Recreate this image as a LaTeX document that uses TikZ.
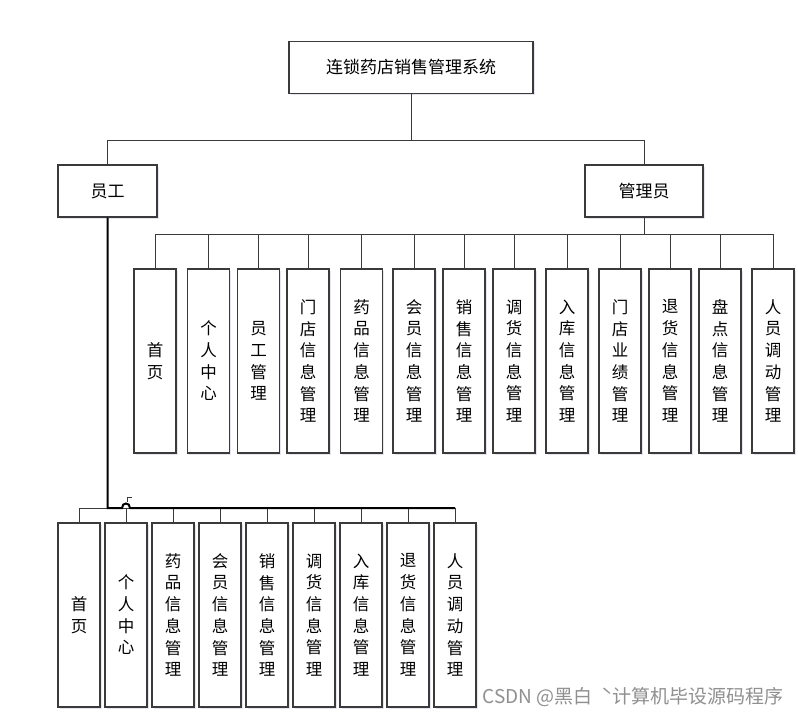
\documentclass[tikz,border=0pt]{standalone}
\usepackage{fontspec}
\setmainfont{Noto Sans CJK SC}
\usetikzlibrary{shadows,calc}
\definecolor{edge}{HTML}{3A3A3A}
\definecolor{wm}{HTML}{909090}
\begin{document}
\begin{tikzpicture}[x=1pt,y=-1pt,
  box/.style={draw=edge, line width=1.2pt, fill=white, inner sep=0pt,
    drop shadow={shadow xshift=1.5pt, shadow yshift=-1.5pt, fill=blue!30!gray, opacity=0.15}},
  hbox/.style={box, minimum height=52pt, font=\fontsize{17}{20}\selectfont},
  vbox/.style={box, minimum width=42pt, minimum height=184pt, align=center,
    font=\fontsize{16.5}{21.7}\selectfont},
  link/.style={draw=edge, line width=0.9pt},
  mainlink/.style={draw=black, line width=2pt}]
\useasboundingbox[fill=white] (0,0) rectangle (798,717);

% top level
\node[hbox, minimum width=244pt] (root) at (411,67.5) {连锁药店销售管理系统};
\node[hbox, minimum width=99pt] (staff) at (107.5,191) {员工};
\node[hbox, minimum width=118pt] (admin) at (644,191) {管理员};

\coordinate (busA) at (0,140);
\coordinate (busB) at (0,234);
\coordinate (busC) at (0,508);

% admin children
\node[vbox] (a1) at (155,361) {首\\页};
\node[vbox] (a2) at (208.5,361) {个\\人\\中\\心};
\node[vbox] (a3) at (258.5,361) {员\\工\\管\\理};
\node[vbox] (a4) at (308,361) {门\\店\\信\\息\\管\\理};
\node[vbox] (a5) at (361.5,361) {药\\品\\信\\息\\管\\理};
\node[vbox] (a6) at (414,361) {会\\员\\信\\息\\管\\理};
\node[vbox] (a7) at (464,361) {销\\售\\信\\息\\管\\理};
\node[vbox] (a8) at (514,361) {调\\货\\信\\息\\管\\理};
\node[vbox] (a9) at (567,361) {入\\库\\信\\息\\管\\理};
\node[vbox] (a10) at (620,361) {门\\店\\业\\绩\\管\\理};
\node[vbox] (a11) at (670,361) {退\\货\\信\\息\\管\\理};
\node[vbox] (a12) at (720,361) {盘\\点\\信\\息\\管\\理};
\node[vbox] (a13) at (773,361) {人\\员\\调\\动\\管\\理};

% staff children
\node[vbox] (s1) at (79,615) {首\\页};
\node[vbox] (s2) at (126,615) {个\\人\\中\\心};
\node[vbox] (s3) at (173,615) {药\\品\\信\\息\\管\\理};
\node[vbox] (s4) at (220,615) {会\\员\\信\\息\\管\\理};
\node[vbox] (s5) at (267,615) {销\\售\\信\\息\\管\\理};
\node[vbox] (s6) at (314,615) {调\\货\\信\\息\\管\\理};
\node[vbox] (s7) at (361,615) {入\\库\\信\\息\\管\\理};
\node[vbox] (s8) at (408,615) {退\\货\\信\\息\\管\\理};
\node[vbox] (s9) at (455,615) {人\\员\\调\\动\\管\\理};

% root connectors
\draw[link] (root.south) -- (root.south |- busA) -| (staff.north);
\draw[link] (root.south |- busA) -| (admin.north);

% admin connectors
\draw[link] (admin.south) -- (admin.south |- busB);
\draw[link] (a1.north |- busB) -- (a13.north |- busB);
\foreach \n in {1,...,13} {
  \draw[link] (a\n.north |- busB) -- (a\n.north);
}

% staff connectors
\draw[link] (s1.north |- busC) -- (s9.north |- busC);
\foreach \n in {1,...,9} {
  \draw[link] (s\n.north |- busC) -- (s\n.north);
}
\coordinate (hopL) at ($(s2.north |- busC) + (-4,0)$);
\coordinate (hopR) at ($(s2.north |- busC) + (4,0)$);
\draw[mainlink, line join=miter] (staff.south) -- (staff.south |- busC) -- (hopL)
  .. controls ($(hopL)+(0,-6)$) and ($(hopR)+(0,-6)$) .. (hopR) -- (s9.north |- busC);
\coordinate (tick) at ($(s2.north |- busC) + (1,-11)$);
\draw[link] ($(tick)+(0,5)$) -- (tick) -- ++(5,0);

% watermark
\node[anchor=east, text=wm, font=\fontsize{19}{22}\selectfont, inner sep=0pt] (wmark) at (784,697) {CSDN @黑白\ \ ˋ计算机毕设源码程序};
\end{tikzpicture}
\end{document}
